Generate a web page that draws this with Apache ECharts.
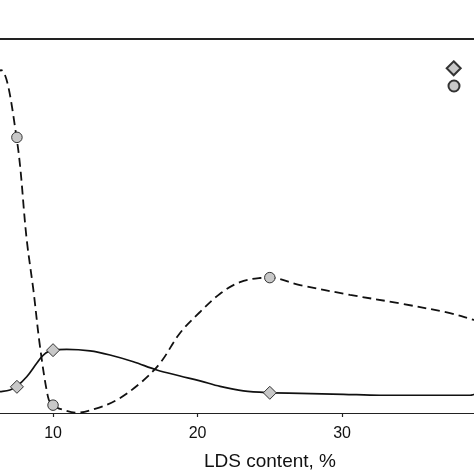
<!DOCTYPE html>
<html>
<head>
<meta charset="utf-8">
<script src="https://cdn.jsdelivr.net/npm/echarts@6/dist/echarts.min.js"></script>
<style>html,body{margin:0;padding:0;background:#fff;}#c{width:474px;height:474px;}</style>
</head>
<body>
<div id="c"></div>
<script>
// x-axis tick labels (LDS content, %)
const xTicks = [10, 20, 30];
const xMin = 6.33, xMax = 39.13;

// Measured points: circles (dashed curve) and diamonds (solid curve)
const circleX = [7.5, 10, 25];
const circleY = [73.7, 2.1, 36.2];
const diamondX = [7.5, 10, 25];
const diamondY = [7.0, 16.8, 5.4];

// Traced fitted curves
const dashedCurveX = [6.0, 6.4, 7.47, 8.18, 8.64, 9.10, 9.65, 9.93, 10.37, 11.64, 13.02, 14.41, 16.02, 17.40, 18.79, 20.17, 21.56, 22.94, 24.33, 24.95, 27.09, 30.55, 34.01, 37.47, 39.13, 40];
const dashedCurveY = [90.5, 91.7, 73.8, 46.3, 32.9, 17.7, 4.3, 2.1, 1.26, 0.08, 1.26, 3.48, 7.94, 13.3, 21.4, 27.0, 31.9, 35.0, 36.1, 36.2, 34.2, 31.6, 29.3, 26.7, 24.9, 24.0];
const solidCurveX = [6.0, 6.33, 7.02, 7.46, 8.18, 8.87, 9.33, 9.95, 10.95, 12.56, 13.94, 15.56, 17.18, 18.79, 20.17, 21.56, 23.17, 24.99, 27.09, 30.09, 32.63, 38.86, 39.13, 40];
const solidCurveY = [5.6, 5.7, 6.15, 7.03, 9.7, 13.3, 15.5, 16.8, 17.0, 16.6, 15.5, 13.7, 11.5, 9.9, 8.6, 7.1, 5.9, 5.43, 5.27, 5.0, 4.75, 4.75, 4.95, 5.8];

const zip = (a, b) => a.map((v, i) => [v, b[i]]);

const chart = echarts.init(document.getElementById('c'), null, {renderer: 'canvas'});
chart.setOption({
  animation: false,
  backgroundColor: '#ffffff',
  grid: {left: 0, right: 0, top: 39, bottom: 61, containLabel: false, outerBoundsMode: 'none'},
  legend: [{
    orient: 'vertical', left: 445.7, top: 60.3, padding: 0, itemWidth: 14, itemHeight: 14,
    formatter: () => '', selectedMode: false,
    data: [{name: 'diamond', icon: 'diamond'}],
    textStyle: {fontSize: 1}
  }, {
    orient: 'vertical', left: 447.5, top: 79.5, padding: 0, itemWidth: 11, itemHeight: 11,
    formatter: () => '', selectedMode: false,
    data: [{name: 'circle', icon: 'circle'}],
    textStyle: {fontSize: 1}
  }],
  xAxis: [{
    type: 'value', min: xMin, max: xMax,
    position: 'bottom',
    name: 'LDS content, %', nameLocation: 'middle', nameGap: 39,
    nameTextStyle: {fontFamily: 'Liberation Sans, Arial, sans-serif', fontSize: 19, color: '#111', padding: [0, 0, 0, 66]},
    axisLine: {lineStyle: {color: '#222', width: 1.2}},
    axisTick: {show: true, inside: false, length: 4, customValues: xTicks, lineStyle: {color: '#222', width: 1.2}},
    axisLabel: {margin: 13, customValues: xTicks, fontFamily: 'Liberation Sans, Arial, sans-serif', fontSize: 16, color: '#111'},
    splitLine: {show: false}
  }, {
    type: 'value', min: xMin, max: xMax, position: 'top',
    axisLine: {lineStyle: {color: '#222', width: 2}},
    axisTick: {show: false}, axisLabel: {show: false}, splitLine: {show: false}
  }],
  yAxis: {type: 'value', min: 0, max: 100, show: false, splitLine: {show: false}},
  series: [
    {
      name: 'dashedCurve', type: 'line', xAxisIndex: 0, data: zip(dashedCurveX, dashedCurveY),
      smooth: 0.35, showSymbol: false, symbol: 'none', z: 2,
      lineStyle: {color: '#111', width: 1.8, type: [9, 5]}
    },
    {
      name: 'solidCurve', type: 'line', xAxisIndex: 0, data: zip(solidCurveX, solidCurveY),
      smooth: 0.35, showSymbol: false, symbol: 'none', z: 2,
      lineStyle: {color: '#111', width: 1.7}
    },
    {
      name: 'circle', type: 'scatter', xAxisIndex: 0, data: zip(circleX, circleY),
      symbol: 'circle', symbolSize: 10.5, z: 5,
      itemStyle: {color: '#c8c8c8', borderColor: '#333', borderWidth: 1, opacity: 1}
    },
    {
      name: 'diamond', type: 'scatter', xAxisIndex: 0, data: zip(diamondX, diamondY),
      symbol: 'diamond', symbolSize: 13, z: 5,
      itemStyle: {color: '#c8c8c8', borderColor: '#333', borderWidth: 1, opacity: 1}
    }
  ]
});
</script>
</body>
</html>
